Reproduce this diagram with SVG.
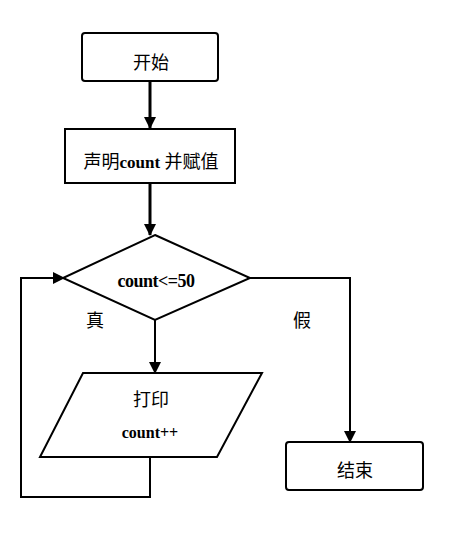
<svg xmlns="http://www.w3.org/2000/svg" width="463" height="547" viewBox="0 0 463 547">
<style>
.box{fill:#fff;stroke:#000;stroke-width:2}
.ln{fill:none;stroke:#000;stroke-width:2}
.thick{fill:none;stroke:#000;stroke-width:3}
.cn{font-family:"Liberation Serif","Noto Sans CJK SC",serif;font-size:18px;fill:#000;text-anchor:middle}
.en{font-family:"Liberation Serif","Noto Sans CJK SC",serif;font-size:16px;font-weight:bold;fill:#000;text-anchor:middle}
</style>
<defs>
<marker id="ah" markerWidth="12" markerHeight="12" refX="11" refY="6" orient="auto" markerUnits="userSpaceOnUse" viewBox="0 0 12 12">
<path d="M0,0 L12,6 L0,12 Z" fill="#000"/>
</marker>
</defs>
<rect x="0" y="0" width="463" height="547" fill="#fff"/>
<g id="connectors">
<line class="thick" x1="150" y1="81" x2="150" y2="128" marker-end="url(#ah)"/>
<line class="thick" x1="150" y1="183" x2="150" y2="235" marker-end="url(#ah)"/>
<line class="ln" x1="155" y1="320" x2="155" y2="373" marker-end="url(#ah)"/>
<polyline class="ln" points="250,278 350,278 350,442" marker-end="url(#ah)"/>
<polyline class="ln" points="150,457 150,497 21,497 21,278 64,278" marker-end="url(#ah)"/>
</g>
<g id="start">
<rect class="box" x="82" y="33" width="136" height="48" rx="3"/>
<text class="cn" x="151" y="69">开始</text>
</g>
<g id="declare">
<rect class="box" x="65" y="129" width="170" height="54"/>
<text class="cn" x="151" y="168">声明<tspan style="font-weight:bold;font-size:17px">count </tspan>并赋值</text>
</g>
<g id="cond">
<polygon class="box" points="155,235 250,278 155,320 63,278"/>
<text class="en" x="156" y="287" style="font-size:18px;letter-spacing:-0.5px">count&lt;=50</text>
</g>
<g id="print">
<polygon class="box" points="83,373 262,373 217,457 40,457"/>
<text class="cn" x="151" y="406">打印</text>
<text class="en" x="150" y="438">count++</text>
</g>
<g id="end">
<rect class="box" x="286" y="442" width="137" height="48" rx="3"/>
<text class="cn" x="355" y="477">结束</text>
</g>
<g id="labels">
<text class="cn" x="95" y="327">真</text>
<text class="cn" x="302" y="327">假</text>
</g>
</svg>
